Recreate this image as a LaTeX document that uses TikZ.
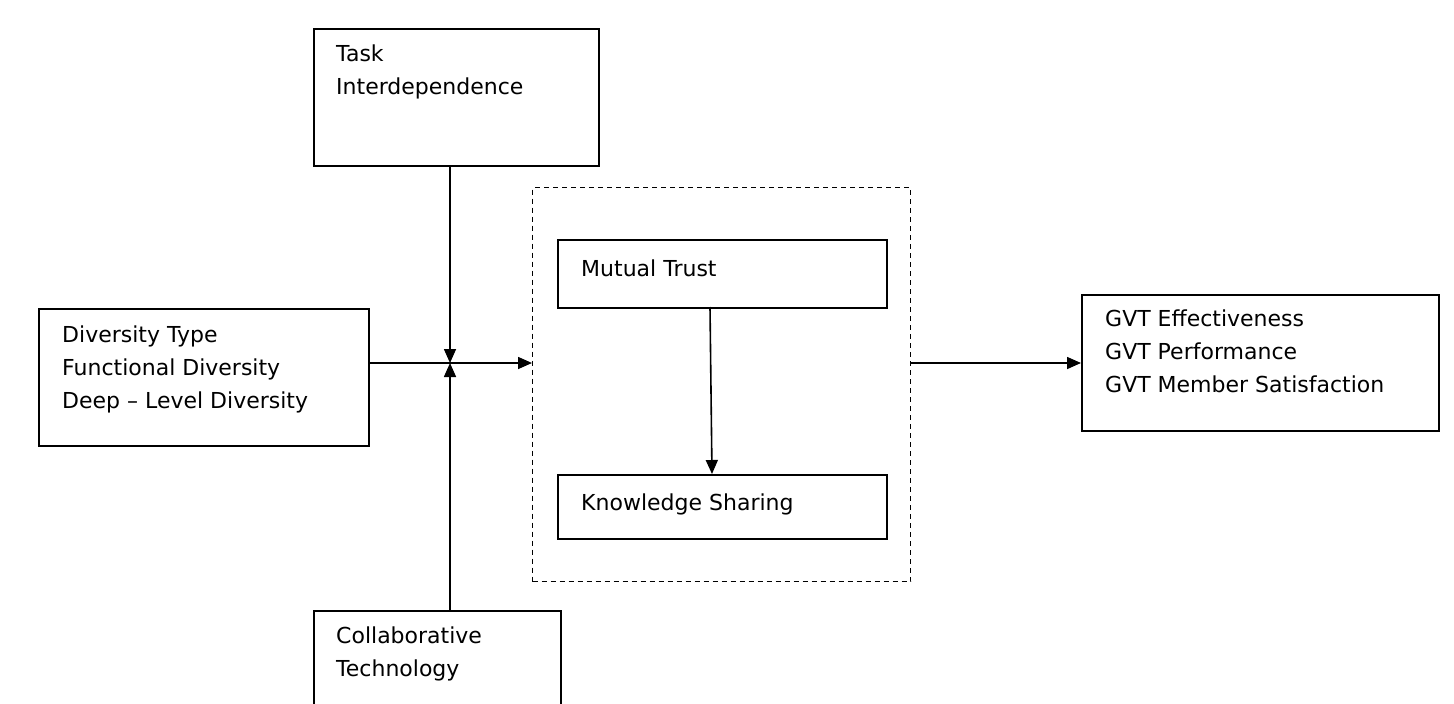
\documentclass[tikz,border=0pt]{standalone}
\usepackage{fontspec}
\setmainfont{DejaVu Sans}
\usetikzlibrary{arrows.meta}
\begin{document}
\begin{tikzpicture}[x=1pt,y=-1pt,
  box/.style={draw,line width=1.6pt,rectangle,anchor=north west,inner sep=0},
  txt/.style={anchor=north west,align=left,inner sep=0,font=\fontsize{22}{33}\selectfont},
  arr/.style={line width=1.6pt,-{Triangle[length=14pt,width=12pt]}}]
\useasboundingbox (0,0) rectangle (1454,704);
\node[box,minimum width=285,minimum height=137] (task) at (313,28) {};
\node[txt] (taskt) at (336,45) {Task\\Interdependence};
\node[box,minimum width=330,minimum height=137] (div) at (38,308) {};
\node[txt] (divt) at (62,326) {Diversity Type\\Functional Diversity\\Deep -- Level Diversity};
\node[box,minimum width=247,minimum height=110] (col) at (313,610) {};
\node[txt] (colt) at (336,627) {Collaborative\\Technology};
\node[box,dashed,line width=1.4pt,dash pattern=on 5pt off 4pt,minimum width=378,minimum height=394] (med) at (532,187) {};
\node[box,minimum width=329,minimum height=68] (mt) at (557,239) {};
\node[txt,anchor=west] (mtt) at (581,268) {Mutual Trust};
\node[box,minimum width=329,minimum height=64] (ks) at (557,474) {};
\node[txt,anchor=west] (kst) at (581,504) {Knowledge Sharing};
\node[box,minimum width=357,minimum height=136] (gvt) at (1081,294) {};
\node[txt] (gvtt) at (1105,310) {GVT Effectiveness\\GVT Performance\\GVT Member Satisfaction};
\coordinate (j) at (450,363);
\draw[arr] (div.east |- j) -- (med.west |- j);
\draw[arr] (task.south -| j) -- (j);
\draw[arr] (col.north -| j) -- (j);
\draw[arr] (710,307) -- (712,474);
\draw[arr] (med.east |- j) -- (gvt.west |- j);
\end{tikzpicture}
\end{document}
